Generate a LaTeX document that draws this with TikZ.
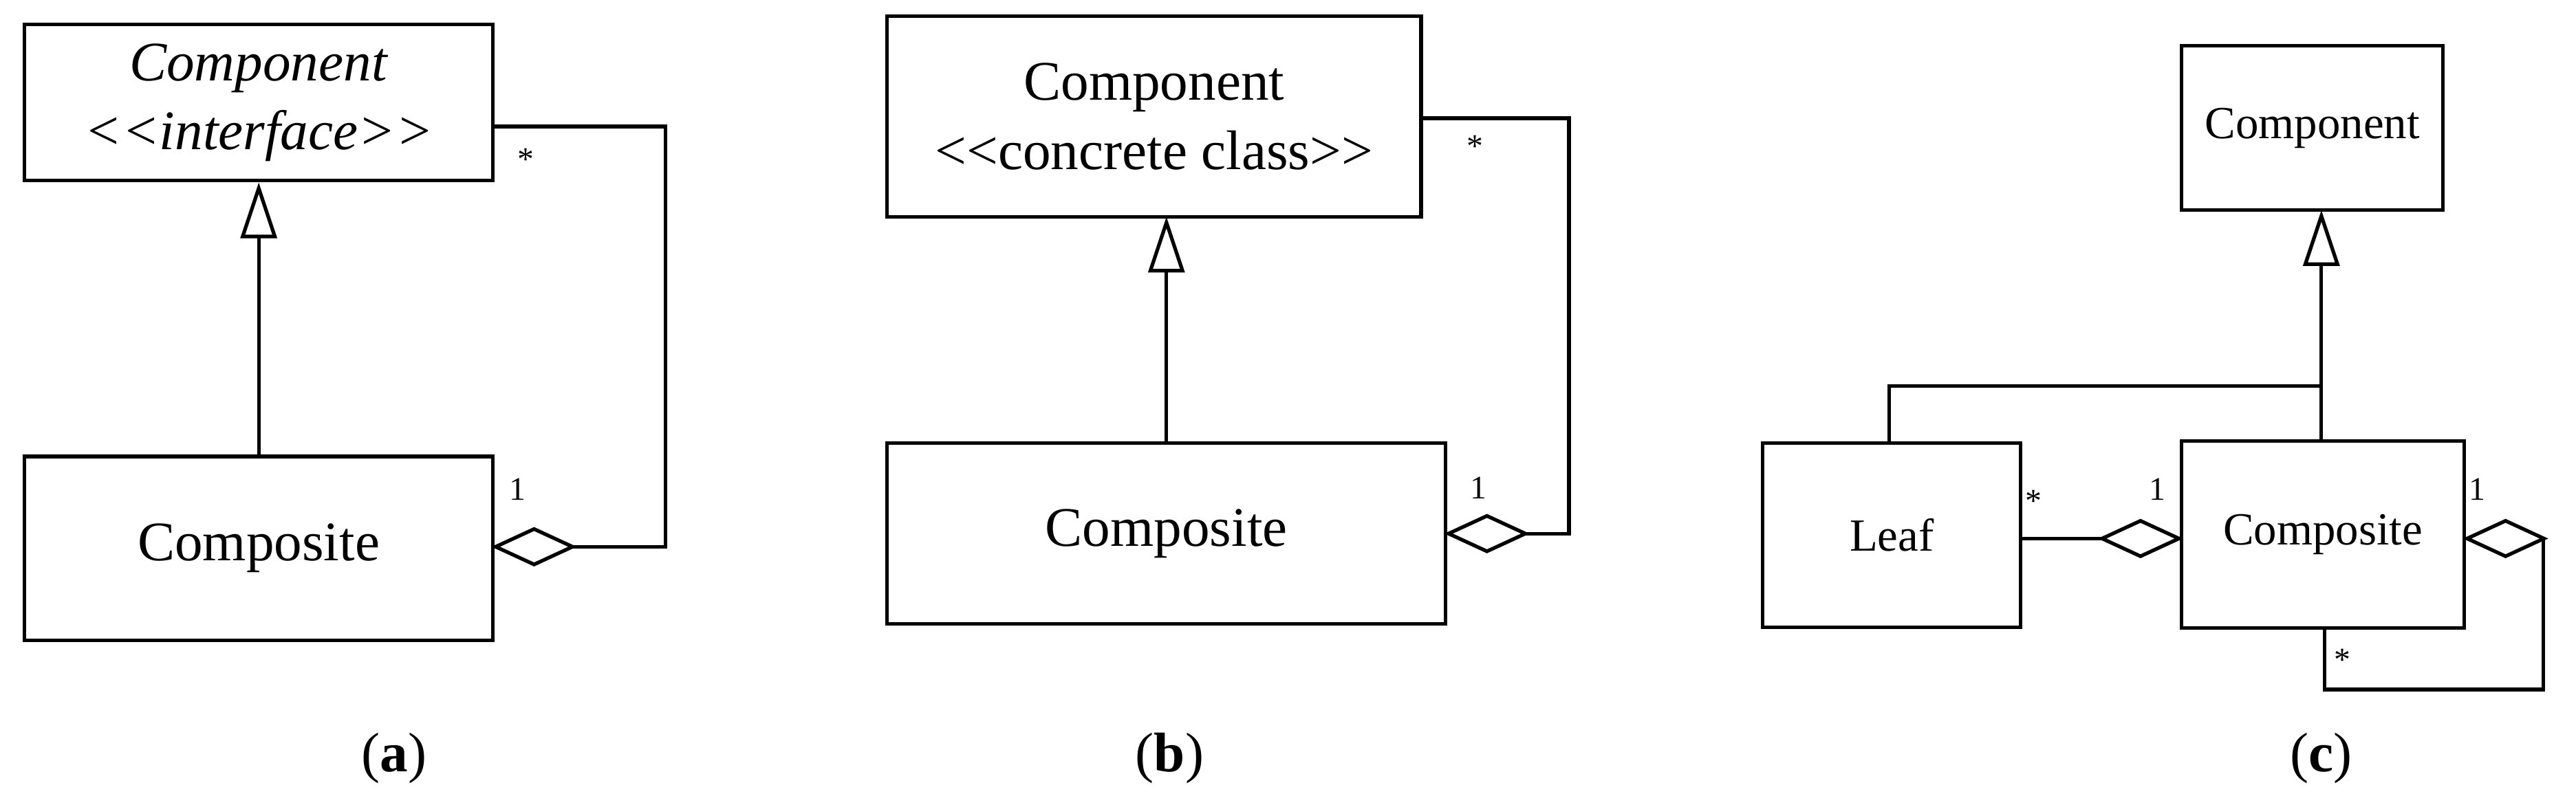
\documentclass[tikz,border=0pt]{standalone}
\usepackage{fontspec}
\setmainfont{Liberation Serif}[Ligatures=NoCommon]
\usetikzlibrary{arrows.meta}
\begin{document}
\begin{tikzpicture}[x=0.5pt,y=-0.5pt,line width=1.1pt,
 box/.style={draw,rectangle,inner sep=0pt},
 big/.style={font=\fontsize{17}{21}\selectfont,align=center},
 mid/.style={font=\fontsize{14}{17}\selectfont,align=center},
 lab/.style={font=\fontsize{10}{11}\selectfont},
 inh/.style={-{Triangle[open,length=17pt,width=11pt]}},
 agg/.style={{Diamond[open,length=26pt,width=12pt,sep=-1pt]}-}]
\useasboundingbox (0,0) rectangle (1568,490);
% (a)
\node[box,big,minimum width=142.5pt,minimum height=47.5pt] (ca) at (157.5,62.5) {\textit{Component}\\\textit{{<}{<}interface{>}{>}}};
\node[box,big,minimum width=142.5pt,minimum height=56pt] (pa) at (157.5,334) {Composite};
\draw[inh] (pa.north -| ca) -- (ca.south);
\coordinate (a1) at (405,333); \coordinate (a2) at (405,77);
\draw[agg] (pa.east |- a1) -- (a1) -- (a2) -- (ca.east |- a2);
\node[lab] (sa) at (320,97) {*};
\node[lab] (oa) at (315,298) {1};
% (b)
\node[box,big,minimum width=162.5pt,minimum height=61pt] (cb) at (702.5,71) {Component\\{<}{<}concrete class{>}{>}};
\node[box,big,minimum width=170pt,minimum height=55pt] (pb) at (710,325) {Composite};
\draw[inh] (pb.north -| 710,0) -- (710,132);
\coordinate (b1) at (955,325); \coordinate (b2) at (955,72);
\draw[agg] (pb.east |- b1) -- (b1) -- (b2) -- (cb.east |- b2);
\node[lab] (sb) at (898,89) {*};
\node[lab] (ob) at (900,297) {1};
% (c)
\node[box,mid,minimum width=79.5pt,minimum height=50pt] (cc) at (1407.5,78) {Component};
\node[box,mid,minimum width=78.5pt,minimum height=56pt] (lc) at (1151.5,326) {Leaf};
\node[box,mid,minimum width=86pt,minimum height=57pt] (pc) at (1414,325.5) {Composite};
\draw[inh] (1413,268) -- (1413,128);
\coordinate (c1) at (1150,235); \coordinate (c2) at (1413,235);
\draw (lc.north -| c1) -- (c1) -- (c2);
\draw[agg] (pc.west |- 0,328) -- (lc.east |- 0,328);
\coordinate (d1) at (1548,328); \coordinate (d2) at (1548,420); \coordinate (d3) at (1415,420);
\draw[agg] (pc.east |- d1) -- (d1) -- (d2) -- (d3) -- (pc.south -| d3);
\node[lab] (sc1) at (1238,305) {*};
\node[lab] (oc1) at (1313,298) {1};
\node[lab] (oc2) at (1508,298) {1};
\node[lab] (sc2) at (1426,402) {*};
% captions
\node[big] (ka) at (240,462) {(\textbf{a})};
\node[big] (kb) at (712,462) {(\textbf{b})};
\node[big] (kc) at (1413,462) {(\textbf{c})};
\end{tikzpicture}
\end{document}
